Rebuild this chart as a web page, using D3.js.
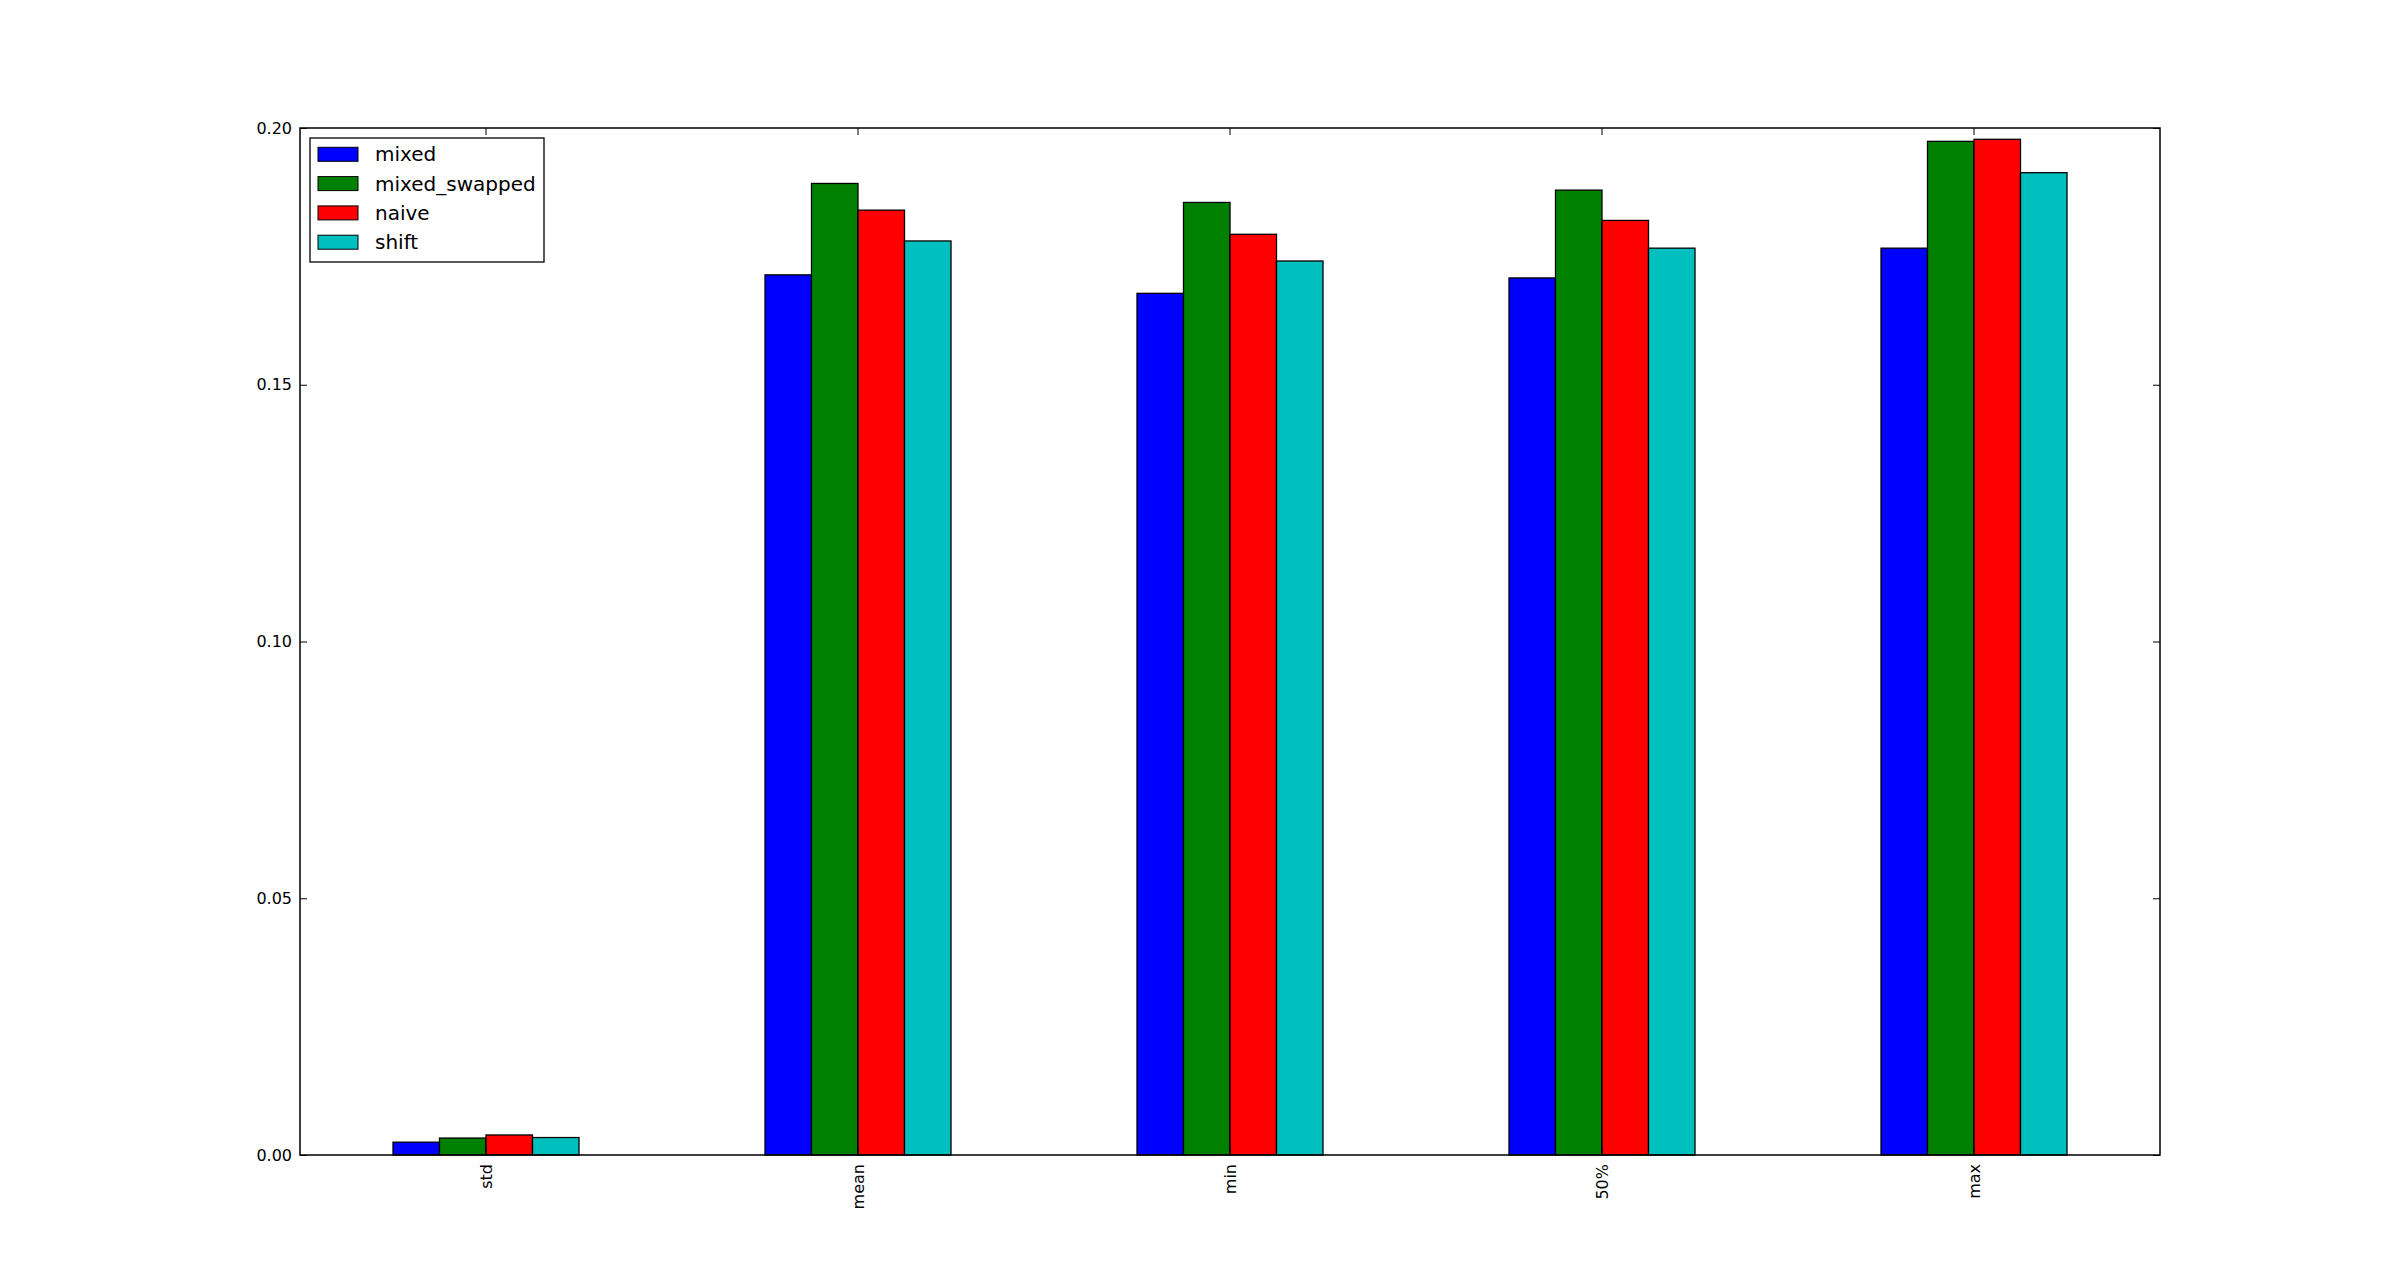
<!DOCTYPE html>
<html>
<head>
<meta charset="utf-8">
<script src="https://cdn.jsdelivr.net/npm/d3@7"></script>
<style>
  body { margin: 0; background: #fff; }
  text { font-family: "DejaVu Sans", sans-serif; fill: #000; }
</style>
</head>
<body>
<div id="chart"></div>
<script>
// data
const categories = ["std", "mean", "min", "50%", "max"];
const seriesNames = ["mixed", "mixed_swapped", "naive", "shift"];
const mixed         = [0.0025, 0.1714, 0.1678, 0.1708, 0.1766];
const mixed_swapped = [0.0033, 0.1892, 0.1855, 0.1879, 0.1974];
const naive         = [0.0039, 0.1840, 0.1793, 0.1820, 0.1978];
const shift         = [0.0034, 0.1780, 0.1741, 0.1766, 0.1913];
const yTicks = [0.00, 0.05, 0.10, 0.15, 0.20];
const colors = ["#0000ff", "#008000", "#ff0000", "#00bfbf"];

const seriesValues = [mixed, mixed_swapped, naive, shift];

/** CONSTANTS */
const width = 2400,
  height = 1283,
  margin = { top: 128, bottom: 128, left: 300, right: 240 };

/** SCALES */
const xScale = d3.scaleBand()
  .domain(categories)
  .range([margin.left, width - margin.right])
  .paddingInner(0.5)
  .paddingOuter(0.25);

const xSub = d3.scaleBand()
  .domain(seriesNames)
  .range([0, xScale.bandwidth()]);

const yScale = d3.scaleLinear()
  .domain([0, 0.2])
  .range([height - margin.bottom, margin.top]);

const svg = d3.select("#chart")
  .append("svg")
  .attr("width", width)
  .attr("height", height);

// bars
const rows = [];
categories.forEach((c, i) => {
  seriesNames.forEach((s, k) => rows.push({ cat: c, series: s, k: k, value: seriesValues[k][i] }));
});

svg.append("g")
  .selectAll("rect")
  .data(rows)
  .join("rect")
  .attr("x", d => xScale(d.cat) + xSub(d.series))
  .attr("y", d => yScale(d.value))
  .attr("width", xSub.bandwidth())
  .attr("height", d => yScale(0) - yScale(d.value))
  .attr("fill", d => colors[d.k])
  .attr("stroke", "#000")
  .attr("stroke-width", 1.3);

// axes (ticks point inward, mirrored on all sides)
const tickLen = 7;
const yAxisL = d3.axisLeft(yScale).tickValues(yTicks).tickFormat(d3.format(".2f"))
  .tickSizeInner(-tickLen).tickSizeOuter(0).tickPadding(8);
const yAxisR = d3.axisRight(yScale).tickValues(yTicks).tickFormat("")
  .tickSizeInner(-tickLen).tickSizeOuter(0);
const xAxisB = d3.axisBottom(xScale).tickSizeInner(-tickLen).tickSizeOuter(0).tickPadding(0);
const xAxisT = d3.axisTop(xScale).tickFormat("").tickSizeInner(-tickLen).tickSizeOuter(0);

const gl = svg.append("g").attr("transform", `translate(${margin.left},0)`).call(yAxisL);
gl.selectAll("text").style("font-size", "16px").attr("font-family", null);
svg.append("g").attr("transform", `translate(${width - margin.right},0)`).call(yAxisR);

const gb = svg.append("g").attr("transform", `translate(0,${height - margin.bottom})`).call(xAxisB);
gb.selectAll("text")
  .style("font-size", "16px")
  .attr("font-family", null)
  .attr("transform", "rotate(-90)")
  .attr("x", -9)
  .attr("y", 0)
  .attr("dy", "0.35em")
  .style("text-anchor", "end");
svg.append("g").attr("transform", `translate(0,${margin.top})`).call(xAxisT);

svg.selectAll(".domain").remove();
svg.selectAll(".tick line").attr("stroke", "#000").attr("stroke-width", 1);

// frame
svg.append("rect")
  .attr("x", margin.left)
  .attr("y", margin.top)
  .attr("width", width - margin.left - margin.right)
  .attr("height", height - margin.top - margin.bottom)
  .attr("fill", "none")
  .attr("stroke", "#000")
  .attr("stroke-width", 1.5);

// legend
const legend = svg.append("g").attr("transform", "translate(310,138)");
legend.append("rect")
  .attr("width", 234)
  .attr("height", 124)
  .attr("fill", "#fff")
  .attr("stroke", "#000")
  .attr("stroke-width", 1.3);

const item = legend.selectAll("g.item")
  .data(seriesNames)
  .join("g")
  .attr("class", "item")
  .attr("transform", (d, i) => `translate(0,${16.3 + i * 29.3})`);

item.append("rect")
  .attr("x", 8)
  .attr("y", -7)
  .attr("width", 40)
  .attr("height", 14)
  .attr("fill", (d, i) => colors[i])
  .attr("stroke", "#000")
  .attr("stroke-width", 1);

item.append("text")
  .attr("x", 65)
  .attr("dy", "0.35em")
  .style("font-size", "20px")
  .text(d => d);
</script>
</body>
</html>
